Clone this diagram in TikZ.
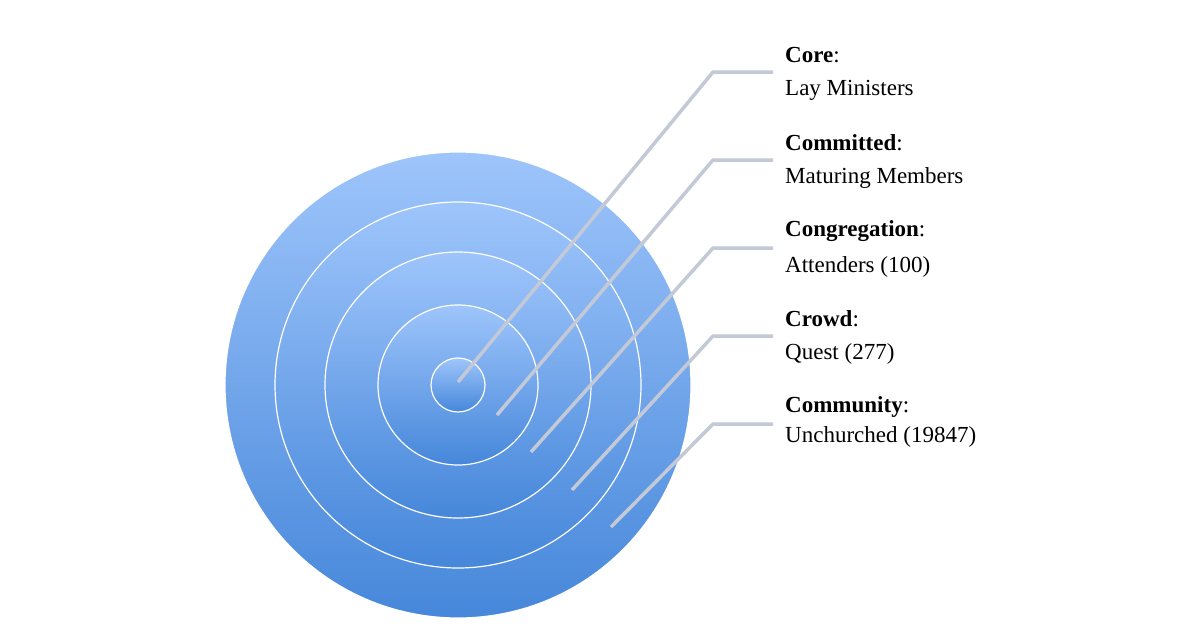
\documentclass[tikz,border=0pt]{standalone}
\usepackage{fontspec}
\setmainfont{Liberation Serif}
\begin{document}
\begin{tikzpicture}[x=1pt,y=-1pt,
  ring/.style={draw=white,line width=1.2pt,top color=ctop,bottom color=cbot},
  lead/.style={draw=lineg,line width=3.5pt},
  lab/.style={anchor=west,font=\fontsize{23}{26}\selectfont,text=black,inner sep=0pt}]
\definecolor{ctop}{HTML}{9EC5FB}
\definecolor{cbot}{HTML}{4687DA}
\definecolor{lineg}{HTML}{C3C9D6}
\useasboundingbox (0,0) rectangle (1200,630);
\fill[white] (0,0) rectangle (1200,630);
\path[ring] (458,385) circle[radius=233];
\path[ring] (458,385) circle[radius=183];
\path[ring] (458,385) circle[radius=133];
\path[ring] (458,385) circle[radius=80];
\path[ring] (458,385) circle[radius=27];
\coordinate (p1) at (458,382);
\coordinate (p2) at (497,415);
\coordinate (p3) at (531,452);
\coordinate (p4) at (572,490);
\coordinate (p5) at (611,527);
\foreach \i/\y in {1/72,2/160,3/248,4/336,5/424}{
  \coordinate (k\i) at (713,\y);
  \coordinate (e\i) at (773,\y);
  \draw[lead] (p\i) -- (k\i) -- (e\i);
}
\node[lab] (t1) at (785,55) {\textbf{Core}:};
\node[lab] (s1) at (785,90) {Lay Ministers};
\node[lab] (t2) at (785,143) {\textbf{Committed}:};
\node[lab] (s2) at (785,178) {Maturing Members};
\node[lab] (t3) at (785,231) {\textbf{Congregation}:};
\node[lab] (s3) at (785,267) {Attenders (100)};
\node[lab] (t4) at (785,319) {\textbf{Crowd}:};
\node[lab] (s4) at (785,354) {Quest (277)};
\node[lab] (t5) at (785,407) {\textbf{Community}:};
\node[lab] (s5) at (785,437) {Unchurched (19847)};
\end{tikzpicture}
\end{document}
